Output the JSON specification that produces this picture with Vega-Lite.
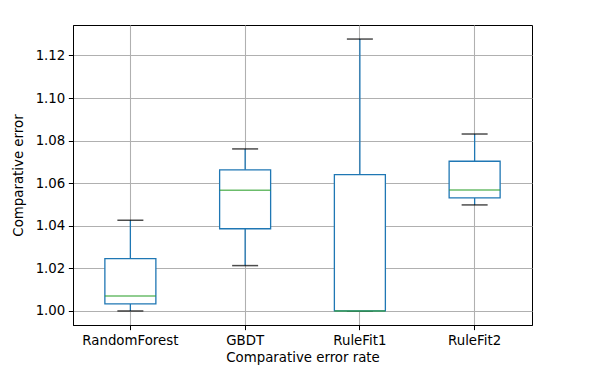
{
  "$schema": "https://vega.github.io/schema/vega-lite/v6.json",
  "autosize": "none",
  "width": 459,
  "height": 300,
  "padding": {"left": 73, "top": 25, "right": 68, "bottom": 61},
  "background": "white",
  "config": {
    "view": {"stroke": "black", "strokeWidth": 1},
    "font": "DejaVu Sans",
    "axis": {
      "labelFont": "DejaVu Sans",
      "titleFont": "DejaVu Sans",
      "labelFontSize": 13.33,
      "titleFontSize": 13.33,
      "titleFontWeight": "normal",
      "labelColor": "black",
      "titleColor": "black",
      "domainColor": "black",
      "tickColor": "black",
      "tickSize": 4.67,
      "labelPadding": 3.5,
      "gridColor": "#b0b0b0",
      "gridWidth": 1.07,
      "gridOpacity": 1
    }
  },
  "data": {
    "values": [
      {"model": "RandomForest", "lo": 1.0, "q1": 1.0033, "median": 1.007, "q3": 1.0246, "hi": 1.0426},
      {"model": "GBDT", "lo": 1.0213, "q1": 1.0386, "median": 1.0567, "q3": 1.0663, "hi": 1.0761},
      {"model": "RuleFit1", "lo": 1.0, "q1": 1.0, "median": 1.0, "q3": 1.064, "hi": 1.1277},
      {"model": "RuleFit2", "lo": 1.0498, "q1": 1.0531, "median": 1.0568, "q3": 1.0703, "hi": 1.0831}
    ]
  },
  "encoding": {
    "x": {
      "field": "model",
      "type": "nominal",
      "sort": ["RandomForest", "GBDT", "RuleFit1", "RuleFit2"],
      "scale": {"paddingInner": 0, "paddingOuter": 0},
      "axis": {"title": "Comparative error rate", "labelAngle": 0, "grid": true, "titlePadding": 4}
    }
  },
  "layer": [
    {
      "mark": {"type": "rule", "color": "#1f77b4", "strokeWidth": 1.3},
      "encoding": {
        "y": {
          "field": "lo",
          "type": "quantitative",
          "scale": {"domain": [0.9934, 1.1343], "nice": false, "zero": false},
          "axis": {"title": "Comparative error", "format": ".2f", "values": [1.0, 1.02, 1.04, 1.06, 1.08, 1.1, 1.12], "grid": true, "titlePadding": 10}
        },
        "y2": {"field": "hi"}
      }
    },
    {
      "mark": {"type": "tick", "color": "black", "size": 26, "thickness": 1.5},
      "encoding": {"y": {"field": "hi", "type": "quantitative"}}
    },
    {
      "mark": {"type": "tick", "color": "black", "size": 26, "thickness": 1.5},
      "encoding": {"y": {"field": "lo", "type": "quantitative"}}
    },
    {
      "mark": {"type": "bar", "fill": "white", "stroke": "#1f77b4", "strokeWidth": 1.3, "width": 51},
      "encoding": {
        "y": {"field": "q1", "type": "quantitative"},
        "y2": {"field": "q3"}
      }
    },
    {
      "mark": {"type": "tick", "color": "#2ca02c", "size": 51, "thickness": 1.5},
      "encoding": {"y": {"field": "median", "type": "quantitative"}}
    }
  ]
}
